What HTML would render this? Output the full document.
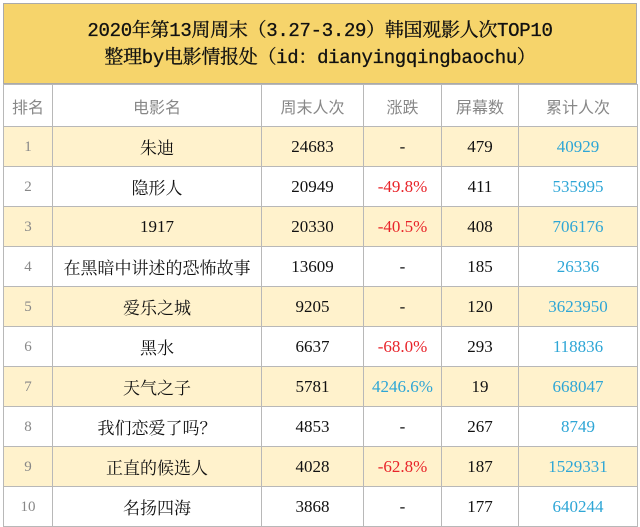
<!DOCTYPE html>
<html><head><meta charset="utf-8"><style>
*{margin:0;padding:0;box-sizing:border-box}
body{width:640px;height:527px;background:#fff;position:relative;overflow:hidden;font-family:"Liberation Serif","Noto Serif CJK SC",serif}
.title{position:absolute;left:3px;top:3px;width:634px;height:81px;background:#F6D46B;border:1px solid #aaa;text-align:center;font-size:19px;line-height:27px;padding-top:14px;color:#111;font-family:"Liberation Mono","Noto Serif CJK SC",serif;font-weight:normal;letter-spacing:-0.3px;-webkit-text-stroke:0.3px #111}
table{position:absolute;left:3px;top:84px;border-collapse:collapse;table-layout:fixed}
td{border:1px solid #b8b8b8;text-align:center;font-size:17px;color:#111;height:40px;padding:0}
tr.h td{height:42px;color:#888;font-family:"Liberation Sans","Noto Sans CJK SC",sans-serif;font-size:16px}
tr.o td{background:#FFF2CC}
td.r{color:#888;font-size:15px;padding-top:2px}
.red{color:#e8242a}.blu{color:#2ea6d6}
</style></head><body>
<div class="title">2020年第13周周末（3.27-3.29）韩国观影人次TOP10<br>整理by电影情报处（id：dianyingqingbaochu）</div>
<table>
<colgroup><col style="width:49px"><col style="width:209px"><col style="width:102px"><col style="width:78px"><col style="width:77px"><col style="width:119px"></colgroup>
<tr class="h"><td>排名</td><td>电影名</td><td>周末人次</td><td>涨跌</td><td>屏幕数</td><td>累计人次</td></tr>
<tr class="o"><td class="r">1</td><td>朱迪</td><td>24683</td><td>-</td><td>479</td><td class="blu">40929</td></tr>
<tr><td class="r">2</td><td>隐形人</td><td>20949</td><td class="red">-49.8%</td><td>411</td><td class="blu">535995</td></tr>
<tr class="o"><td class="r">3</td><td>1917</td><td>20330</td><td class="red">-40.5%</td><td>408</td><td class="blu">706176</td></tr>
<tr><td class="r">4</td><td>在黑暗中讲述的恐怖故事</td><td>13609</td><td>-</td><td>185</td><td class="blu">26336</td></tr>
<tr class="o"><td class="r">5</td><td>爱乐之城</td><td>9205</td><td>-</td><td>120</td><td class="blu">3623950</td></tr>
<tr><td class="r">6</td><td>黑水</td><td>6637</td><td class="red">-68.0%</td><td>293</td><td class="blu">118836</td></tr>
<tr class="o"><td class="r">7</td><td>天气之子</td><td>5781</td><td class="blu">4246.6%</td><td>19</td><td class="blu">668047</td></tr>
<tr><td class="r">8</td><td>我们恋爱了吗？</td><td>4853</td><td>-</td><td>267</td><td class="blu">8749</td></tr>
<tr class="o"><td class="r">9</td><td>正直的候选人</td><td>4028</td><td class="red">-62.8%</td><td>187</td><td class="blu">1529331</td></tr>
<tr><td class="r">10</td><td>名扬四海</td><td>3868</td><td>-</td><td>177</td><td class="blu">640244</td></tr>
</table>
</body></html>
